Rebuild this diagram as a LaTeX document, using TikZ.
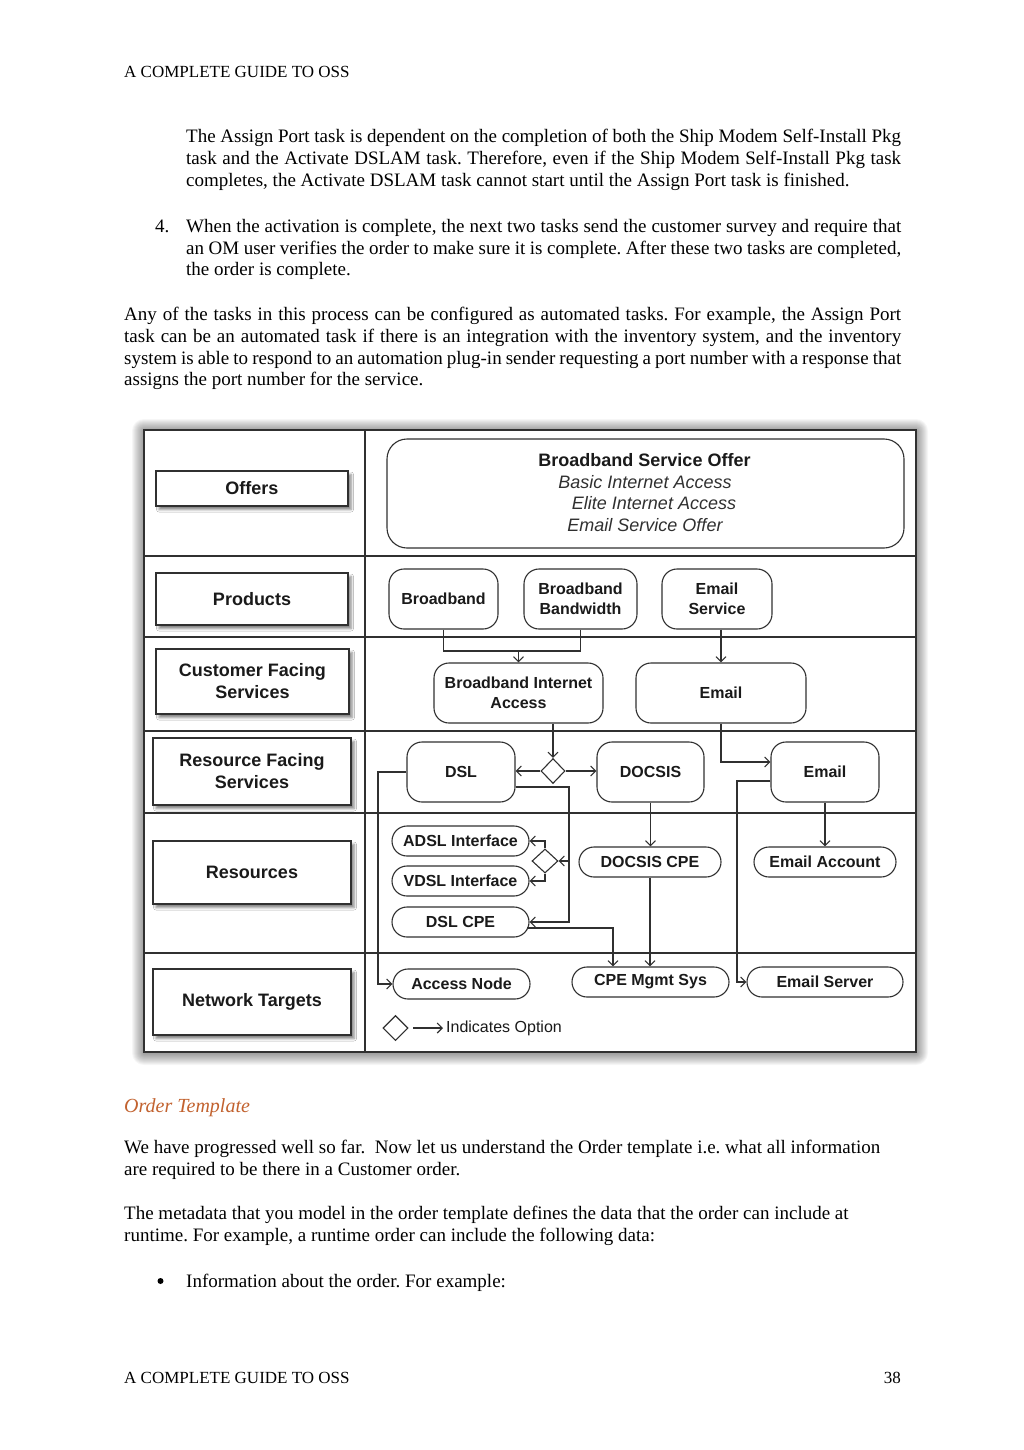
\documentclass[tikz,border=0pt]{standalone}
\usepackage{fontspec}
\setmainfont{Liberation Serif}
\newfontfamily\diagfont{Liberation Sans}
\usetikzlibrary{arrows.meta,shapes.geometric,shadows.blur,calc}
\definecolor{ln}{HTML}{303030}
\definecolor{tx}{HTML}{1A1A1A}
\definecolor{orangehead}{HTML}{C2622F}
\frenchspacing
\begin{document}
\begin{tikzpicture}[x=1pt,y=-1pt,
  body/.style={anchor=base west, inner sep=0pt, font=\fontsize{19}{22}\selectfont, text=black},
  lbl/.style={draw=ln, line width=1.3pt, fill=white, font=\diagfont\bfseries\fontsize{18}{22}\selectfont,
    text=tx, align=center, inner sep=0pt,
    blur shadow={shadow xshift=3pt, shadow yshift=-3.5pt, shadow blur radius=2.5pt, shadow opacity=50}},
  rbox/.style={draw=ln, line width=1.1pt, rounded corners=15pt, fill=white,
    font=\diagfont\bfseries\fontsize{16}{20}\selectfont, align=center, inner sep=0pt, text=tx,
    minimum height=60pt},
  pill/.style={rbox, minimum height=30pt},
  dia/.style={draw=ln, line width=1.1pt, diamond, minimum width=24pt, minimum height=25pt, inner sep=0pt, fill=white},
  conn/.style={draw=ln, line width=1.1pt},
  arr/.style={-{Straight Barb[length=5pt,width=10pt]}},
  dtext/.style={inner sep=0pt, text=tx}
]
\useasboundingbox (0,0) rectangle (1024,1450);
\fill[white] (0,0) rectangle (1024,1450);

% ---------- page text ----------
\node[body, font=\fontsize{17}{20}\selectfont] (hdr) at (124,78) {A COMPLETE GUIDE TO OSS};

\node[body] (p1a) at (186,143) {\makebox[715pt][s]{The Assign Port task is dependent on the completion of both the Ship Modem Self-Install Pkg}};
\node[body] (p1b) at (186,165) {\makebox[715pt][s]{task and the Activate DSLAM task. Therefore, even if the Ship Modem Self-Install Pkg task}};
\node[body] (p1c) at (186,186) {completes, the Activate DSLAM task cannot start until the Assign Port task is finished.};

\node[body] (n4) at (155,232) {4.};
\node[body] (p2a) at (186,232) {\makebox[715pt][s]{When the activation is complete, the next two tasks send the customer survey and require that}};
\node[body] (p2b) at (186,254) {\makebox[715pt][s]{an OM user verifies the order to make sure it is complete. After these two tasks are completed,}};
\node[body] (p2c) at (186,275) {the order is complete.};

\node[body] (p3a) at (124,320) {\makebox[777pt][s]{Any of the tasks in this process can be configured as automated tasks. For example, the Assign Port}};
\node[body] (p3b) at (124,342) {\makebox[777pt][s]{task can be an automated task if there is an integration with the inventory system, and the inventory}};
\node[body] (p3c) at (124,364) {\makebox[777pt][s]{system is able to respond to an automation plug-in sender requesting a port number with a response that}};
\node[body] (p3d) at (124,385) {assigns the port number for the service.};

\node[body, font=\fontsize{20}{24}\selectfont\itshape, text=orangehead] (hd2) at (124,1112) {Order Template};

\node[body] (p4a) at (124,1153) {We have progressed well so far.~ Now let us understand the Order template i.e. what all information};
\node[body] (p4b) at (124,1175) {are required to be there in a Customer order.};
\node[body] (p5a) at (124,1219) {The metadata that you model in the order template defines the data that the order can include at};
\node[body] (p5b) at (124,1241) {runtime. For example, a runtime order can include the following data:};
\fill[black] (160.5,1281) circle (3pt);
\node[body] (p6a) at (186,1287) {Information about the order. For example:};

\node[body, font=\fontsize{17}{20}\selectfont] (ftr) at (124,1383) {A COMPLETE GUIDE TO OSS};
\node[body, anchor=base east, font=\fontsize{17}{20}\selectfont] (pg) at (901,1383) {38};

% ---------- diagram frame with soft glow shadow ----------
\foreach \i in {1,...,12}
  \fill[black, opacity=0.035, rounded corners=\i pt] ({144-\i},{430-\i+1}) rectangle ({916+\i},{1052+\i+1});
\fill[white] (144,430) rectangle (916,1052);
\draw[ln, line width=1.4pt] (144,430) rectangle (916,1052);
\draw[ln, line width=1.3pt] (365,430) -- (365,1052);
\foreach \yy in {556,637,731,813,953} \draw[ln, line width=1.3pt] (144,\yy) -- (916,\yy);

% ---------- row labels ----------
\node[lbl, minimum width=192pt, minimum height=35pt] (lOffers) at (252,488.5) {Offers};
\node[lbl, minimum width=192pt, minimum height=52pt] (lProducts) at (252,599) {Products};
\node[lbl, minimum width=193pt, minimum height=65pt] (lCFS) at (252.5,681.5) {Customer Facing\\Services};
\node[lbl, minimum width=198pt, minimum height=67pt] (lRFS) at (252,771.5) {Resource Facing\\Services};
\node[lbl, minimum width=198pt, minimum height=63pt] (lRes) at (252,872.5) {Resources};
\node[lbl, minimum width=198pt, minimum height=66pt] (lNT) at (252,1002) {Network Targets};

% ---------- offers ----------
\node[draw=ln, line width=1.1pt, rounded corners=20pt, minimum width=517pt, minimum height=109pt, inner sep=0pt] (offer) at (645.5,493.5) {};
\node[dtext, font=\diagfont\bfseries\fontsize{18}{22}\selectfont] (ot1) at (644.5,460) {Broadband Service Offer};
\node[dtext, font=\diagfont\itshape\fontsize{18}{22}\selectfont, text=ln] (ot2) at (645,482) {Basic Internet Access};
\node[dtext, font=\diagfont\itshape\fontsize{18}{22}\selectfont, text=ln] (ot3) at (654,503.5) {Elite Internet Access};
\node[dtext, font=\diagfont\itshape\fontsize{18}{22}\selectfont, text=ln] (ot4) at (645,525.5) {Email Service Offer};

% ---------- products ----------
\node[rbox, minimum width=109pt] (pBB) at (443.5,599) {Broadband};
\node[rbox, minimum width=113pt] (pBBW) at (580.5,599) {Broadband\\Bandwidth};
\node[rbox, minimum width=110pt] (pES) at (717,599) {Email\\Service};

% ---------- CFS ----------
\node[rbox, minimum width=169pt] (cBIA) at (518.5,693) {Broadband Internet\\Access};
\node[rbox, minimum width=170pt] (cEmail) at (721,693) {Email};

% ---------- RFS ----------
\node[rbox, minimum width=108pt] (rDSL) at (461,772) {DSL};
\node[dia] (dia1) at (553,771) {};
\node[rbox, minimum width=107pt] (rDOCSIS) at (650.5,772) {DOCSIS};
\node[rbox, minimum width=108pt] (rEmail) at (825,772) {Email};

% ---------- resources ----------
\node[pill, minimum width=137pt] (ADSL) at (460.5,841) {ADSL Interface};
\node[pill, minimum width=137pt] (VDSL) at (460.5,881) {VDSL Interface};
\node[pill, minimum width=137pt] (DSLCPE) at (460.5,922) {DSL CPE};
\node[dia, minimum width=26pt, minimum height=24pt] (dia2) at (545,861) {};
\node[pill, minimum width=142pt] (DOCSISCPE) at (650,862) {DOCSIS CPE};
\node[pill, minimum width=142pt] (EmailAcct) at (825,862) {Email Account};

% ---------- network targets ----------
\node[pill, minimum width=137pt] (AccessNode) at (461.5,984) {Access Node};
\node[pill, minimum width=157pt] (CPEMgmt) at (650.5,982) {CPE Mgmt Sys};
\node[pill, minimum width=156pt] (EmailServer) at (825,982) {Email Server};

% ---------- legend ----------
\node[dia, minimum width=25pt, minimum height=25pt] (dLeg) at (395.5,1028) {};
\coordinate (legA) at (413,1028);
\coordinate (legB) at (443,1028);
\draw[conn, arr] (legA) -- (legB);
\node[dtext, anchor=west, font=\diagfont\fontsize{16}{20}\selectfont] (legT) at (446,1028) {Indicates Option};

% ---------- connectors ----------
\coordinate (m1) at (518.5,651);
\draw[conn] (pBB.south) |- (m1);
\draw[conn, arr] (pBBW.south) |- (m1) -- (cBIA.north);
\draw[conn, arr] (cEmail.north |- pES.south) -- (cEmail.north);
\draw[conn, arr] (cBIA.south -| dia1.north) -- (dia1.north);
\draw[conn, arr] (dia1.west) -- (rDSL.east |- dia1.west);
\draw[conn, arr] (dia1.east) -- (rDOCSIS.west |- dia1.east);
\draw[conn, arr] (cEmail.south) |- (rEmail.west |- 0,762);
\draw[conn, arr] (rEmail.west |- 0,781) -| (737,0 |- EmailServer.west) -- (EmailServer.west);
\draw[conn, arr] (rDSL.west) -| (378,0 |- AccessNode.west) -- (AccessNode.west);
\draw[conn, arr] (rDSL.east |- 0,787) -| (569,0 |- DSLCPE.east) -- (DSLCPE.east);
\draw[conn, arr] (569,0 |- dia2.east) -- (dia2.east);
\draw[conn, arr] (dia2.north) |- (ADSL.east);
\draw[conn, arr] (dia2.south) |- (VDSL.east);
\draw[conn, arr] (527,928) -| (613,0 |- CPEMgmt.north);
\draw[conn, arr] (rDOCSIS.south) -- (rDOCSIS.south |- DOCSISCPE.north);
\draw[conn, arr] (DOCSISCPE.south) -- (DOCSISCPE.south |- CPEMgmt.north);
\draw[conn, arr] (rEmail.south) -- (rEmail.south |- EmailAcct.north);
\end{tikzpicture}
\end{document}
